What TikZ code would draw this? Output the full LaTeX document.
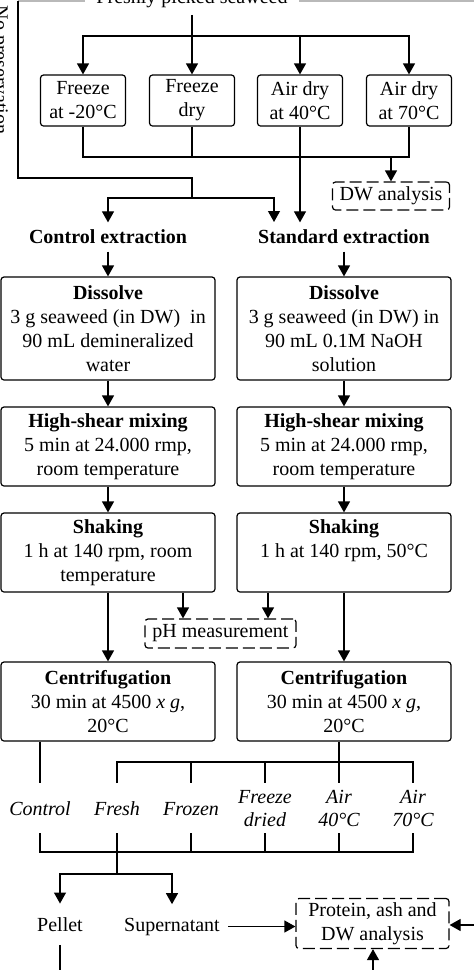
\documentclass[tikz,border=0pt]{standalone}
\usepackage{fontspec}
\setmainfont{Liberation Serif}
\usetikzlibrary{arrows.meta}

\tikzset{
  arr/.style={-{Triangle[width=12pt,length=11pt]}},
  procbox/.style={draw, rounded corners=3pt, align=center, inner sep=0pt},
  prepbox/.style={procbox, minimum width=85pt, minimum height=51pt},
  stepbox/.style={procbox, minimum width=214pt, minimum height=79pt},
  dashbox/.style={procbox, dash pattern=on 12pt off 5pt},
  lbl/.style={align=center, inner sep=0pt},
  headlbl/.style={lbl, font=\fontsize{20}{24}\selectfont\bfseries, inner ysep=7pt},
  grplbl/.style={lbl, font=\fontsize{20}{23}\selectfont\itshape},
  endlbl/.style={lbl, anchor=base, inner xsep=8pt, inner ysep=13pt}
}

\begin{document}
\begin{tikzpicture}[x=1pt, y=-1pt, line width=1.2pt, font=\fontsize{20}{24}\selectfont]
\useasboundingbox (0,0) rectangle (474,970);

% top of the chart
\coordinate (np) at (18,0.5);
\coordinate (tr) at (474,0.5);
\draw[gray!55, line width=2.5pt] (np) -- (tr);
\node[lbl, fill=white, inner xsep=11pt, inner ysep=7pt, anchor=base] (fresh) at (192,3) {Freshly picked seaweed};
\node[lbl, rotate=-90, anchor=north] (nplbl) at (8.5,70) {No preservation};

% preservation
\node[prepbox] (f20) at (83,100.5) {Freeze\\at -20°C};
\node[prepbox] (fdry) at (192,100.5) {Freeze\\dry};
\node[prepbox] (a40) at (300,100.5) {Air dry\\at 40°C};
\node[prepbox] (a70) at (409,100.5) {Air dry\\at 70°C};

\coordinate (split) at (192,36);
\draw (fresh.south) -- (split);
\foreach \b in {f20, fdry, a40, a70}
  \draw[arr] (split) -| (\b.north);

\node[dashbox, minimum width=117pt, minimum height=28pt] (dw) at (391,196) {DW analysis};
\coordinate (dwj) at (391,157);
\draw (f20.south) |- (dwj) -| (a70.south);
\draw (fdry.south) -- (fdry.south |- dwj);
\draw[arr] (dwj) -- (dw.north);

% extractions
\node[headlbl] (ctl) at (108,237) {Control extraction};
\node[headlbl] (std) at (344,237) {Standard extraction};
\coordinate (npj) at (192,198);
\coordinate (stdl) at (274,222);
\draw (np) |- ([yshift=20pt]npj) -- (npj);
\draw[arr] (npj) -| (ctl.north);
\draw[arr] (npj) -| (stdl);
\draw[arr] (a40.south) -- (a40.south |- std.north);

\node[stepbox, minimum height=103pt] (dl) at (108,328.5) {\textbf{Dissolve}\\3 g seaweed (in DW)~ in\\90 mL demineralized\\water};
\node[stepbox, minimum height=103pt] (dr) at (344,328.5) {\textbf{Dissolve}\\3 g seaweed (in DW) in\\90 mL 0.1M NaOH\\solution};
\node[stepbox] (hl) at (108,446.5) {\textbf{High-shear mixing}\\5 min at 24.000 rmp,\\room temperature};
\node[stepbox] (hr) at (344,446.5) {\textbf{High-shear mixing}\\5 min at 24.000 rmp,\\room temperature};
\node[stepbox] (sl) at (108,552.5) {\textbf{Shaking}\\1 h at 140 rpm, room\\temperature};
\node[stepbox] (sr) at (344,552.5) {\textbf{Shaking}\\1 h at 140 rpm, 50°C\\\rule[-0.22em]{0pt}{1em}};
\node[stepbox] (cl) at (108,701.5) {\textbf{Centrifugation}\\30 min at 4500 \textit{x g},\\20°C};
\node[stepbox] (cr) at (344,701.5) {\textbf{Centrifugation}\\30 min at 4500 \textit{x g},\\20°C};

\draw[arr] (ctl.south) -- (dl.north);
\draw[arr] (std.south) -- (dr.north);
\foreach \a/\b in {dl/hl, hl/sl, sl/cl, dr/hr, hr/sr, sr/cr}
  \draw[arr] (\a.south) -- (\b.north);

\node[dashbox, minimum width=151pt, minimum height=29pt] (ph) at (220.5,633.5) {pH measurement};
\coordinate (pha) at ([xshift=75pt]sl.south);
\coordinate (phb) at ([xshift=-76pt]sr.south);
\draw[arr] (pha) -- (pha |- ph.north);
\draw[arr] (phb) -- (phb |- ph.north);

% samples
\node[grplbl] (lctl) at (40,809) {Control};
\node[grplbl] (lfresh) at (117,809) {Fresh};
\node[grplbl] (lfroz) at (191,809) {Frozen};
\node[grplbl] (lfdry) at (265,808.5) {Freeze\\dried};
\node[grplbl] (la40) at (339,808.5) {Air\\40°C};
\node[grplbl] (la70) at (413,808.5) {Air\\70°C};

\coordinate (tk) at (0,783);
\coordinate (bar) at (0,762);
\draw (cl.south -| lctl) -- (lctl |- tk);
\draw (cr.south -| la40) -- (la40 |- tk);
\draw (lfresh |- tk) |- (la70 |- bar) -- (la70 |- tk);
\foreach \n in {lfroz, lfdry}
  \draw (\n |- bar) -- (\n |- tk);

\coordinate (tl) at (0,833);
\coordinate (bl) at (0,852);
\draw (lctl |- tl) |- (la70 |- bl) -- (la70 |- tl);
\foreach \n in {lfresh, lfroz, lfdry, la40}
  \draw (\n |- tl) -- (\n |- bl);

% pellet and supernatant
\path (lfresh |- bl) ++(0,22) coordinate (pj);
\draw (lfresh |- bl) -- (pj);
\node[endlbl] (pel) at (60,931) {Pellet};
\node[endlbl] (sup) at (172,931) {Supernatant};
\draw[arr] (pj) -| (pel.north);
\draw[arr] (pj) -| (sup.north);

\node[dashbox, minimum width=153pt, minimum height=50pt] (prot) at (372.5,923.5) {Protein, ash and\\DW analysis};
\coordinate (rin) at (474,925);
\coordinate (bin) at (373,970);
\coordinate (pout) at (60,970);
\draw[arr] (sup.east) -- (sup.east -| prot.west);
\draw[arr] (rin) -- (rin -| prot.east);
\draw[arr] (bin) -- (bin |- prot.south);
\draw (pel.south) -- (pel.south |- pout);
\end{tikzpicture}
\end{document}
